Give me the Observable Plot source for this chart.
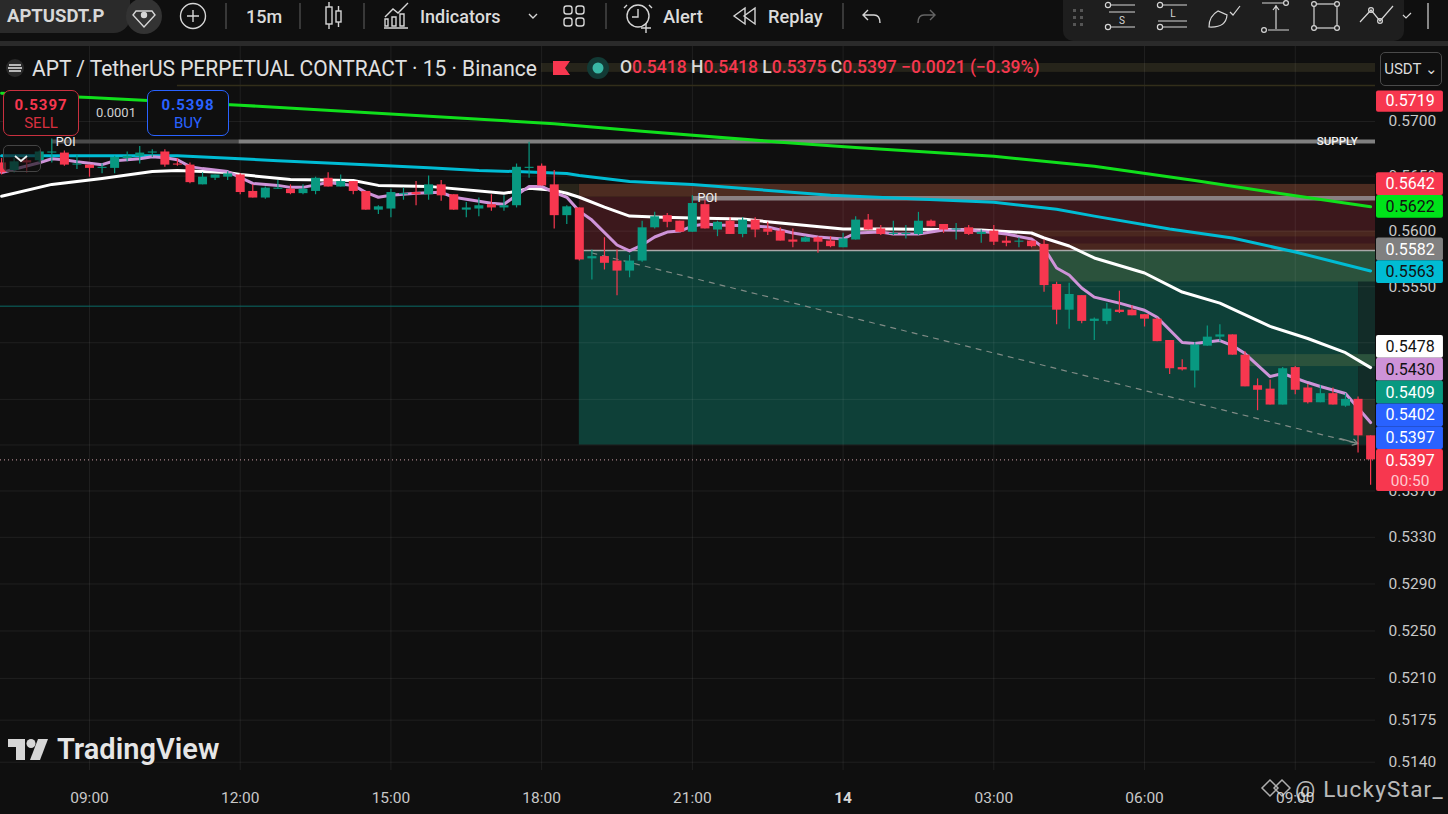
<!DOCTYPE html>
<html>
<head>
<meta charset="utf-8">
<script src="https://cdn.jsdelivr.net/npm/d3@7"></script>
<script src="https://cdn.jsdelivr.net/npm/@observablehq/plot@0.6"></script>
<style>
html,body{margin:0;padding:0;background:#0f0f0f;overflow:hidden;}
body{width:1448px;height:814px;position:relative;font-family:Roboto,"Noto Sans",sans-serif;color:#dbdbdb;}
#chart{position:absolute;left:0;top:46px;}
#divider{position:absolute;left:0;top:41px;width:1448px;height:5px;background:#2a2a2a;}
.t{position:absolute;white-space:nowrap;line-height:1;}
.ico{position:absolute;left:0;top:0;pointer-events:none;}
.box{position:absolute;box-sizing:border-box;background:#0f0f0f;text-align:center;}
.red{color:#f7374f}
</style>
</head>
<body>
<div id="chart"></div>
<div id="divider"></div>
<script>
// ---- candles: one column of values per 15-minute bar, 07:15 on the 13th to 10:30 on the 14th
const firstBar = -7; // bars counted from 09:00
const opens = [
.5662,.5655,.5664,.5664,.5671,.5671,.5660,.5660,.5657,.5657,
.5666,.5668,.5671,.5672,.5661,.5660,.5642,.5648,.5649,.5651,
.5636,.5630,.5638,.5638,.5634,.5636,.5648,.5640,.5645,.5636,
.5619,.5620,.5633,.5635,.5633,.5642,.5633,.5619,.5620,.5624,
.5621,.5623,.5657,.5659,.5642,.5614,.5621,.5575,.5577,.5573,
.5564,.5573,.5603,.5614,.5609,.5599,.5624,.5601,.5609,.5597,
.5610,.5602,.5600,.5592,.5590,.5594,.5591,.5585,.5592,.5610,
.5602,.5597,.5597,.5597,.5609,.5606,.5601,.5603,.5597,.5600,
.5591,.5590,.5591,.5588,.5552,.5529,.5542,.5519,.5519,.5529,
.5529,.5525,.5521,.5502,.5478,.5475,.5497,.5505,.5507,.5489,
.5462,.5459,.5445,.5478,.5460,.5447,.5455,.5444,.5450,.5418];
const highs = [
.5666,.5666,.5666,.5673,.5684,.5673,.5669,.5660,.5661,.5668,
.5672,.5677,.5674,.5674,.5666,.5662,.5653,.5651,.5654,.5652,
.5642,.5640,.5646,.5642,.5642,.5649,.5653,.5651,.5645,.5636,
.5623,.5638,.5639,.5645,.5650,.5646,.5633,.5626,.5630,.5633,
.5632,.5661,.5681,.5661,.5655,.5623,.5621,.5583,.5594,.5583,
.5578,.5609,.5617,.5616,.5609,.5632,.5628,.5609,.5612,.5612,
.5612,.5608,.5603,.5602,.5595,.5595,.5595,.5598,.5613,.5615,
.5605,.5609,.5605,.5617,.5610,.5606,.5607,.5605,.5601,.5605,
.5595,.5594,.5591,.5592,.5554,.5553,.5542,.5522,.5535,.5546,
.5533,.5525,.5522,.5502,.5485,.5500,.5515,.5516,.5507,.5492,
.5468,.5467,.5478,.5479,.5463,.5462,.5460,.5455,.5452,.5418];
const lows = [
.5651,.5653,.5653,.5662,.5662,.5659,.5656,.5649,.5652,.5652,
.5663,.5661,.5667,.5658,.5659,.5643,.5642,.5646,.5646,.5633,
.5630,.5629,.5638,.5633,.5633,.5633,.5640,.5640,.5633,.5619,
.5615,.5612,.5628,.5623,.5628,.5627,.5619,.5612,.5613,.5618,
.5618,.5621,.5648,.5641,.5602,.5606,.5573,.5556,.5565,.5542,
.5558,.5572,.5602,.5603,.5599,.5599,.5602,.5595,.5597,.5594,
.5594,.5596,.5591,.5585,.5590,.5580,.5585,.5585,.5592,.5601,
.5596,.5596,.5593,.5596,.5604,.5598,.5592,.5596,.5589,.5587,
.5586,.5585,.5585,.5545,.5516,.5512,.5517,.5502,.5516,.5526,
.5524,.5514,.5501,.5472,.5475,.5460,.5497,.5501,.5489,.5461,
.5440,.5445,.5445,.5454,.5446,.5447,.5445,.5443,.5403,.5375];
const closes = [
.5653,.5663,.5662,.5672,.5672,.5660,.5661,.5657,.5658,.5667,
.5668,.5671,.5672,.5660,.5660,.5644,.5649,.5651,.5652,.5635,
.5630,.5639,.5639,.5634,.5638,.5648,.5640,.5645,.5636,.5619,
.5622,.5635,.5634,.5633,.5642,.5632,.5619,.5621,.5623,.5621,
.5623,.5658,.5658,.5641,.5614,.5622,.5574,.5577,.5571,.5564,
.5573,.5603,.5613,.5608,.5599,.5625,.5602,.5608,.5597,.5610,
.5601,.5599,.5591,.5590,.5594,.5590,.5586,.5593,.5610,.5601,
.5597,.5598,.5598,.5609,.5604,.5601,.5602,.5597,.5599,.5590,
.5589,.5591,.5586,.5551,.5529,.5543,.5519,.5521,.5530,.5527,
.5524,.5521,.5501,.5477,.5476,.5498,.5505,.5507,.5489,.5461,
.5458,.5445,.5477,.5458,.5447,.5455,.5445,.5450,.5418,.5397];

// ---- moving averages, read at the bars where their bends show
const greenBars = [-7,-2,0,12,37,44,55,61,72,80,88,96,102];
const greenVals = [.5726,.5723,.5722,.5715,.5698,.5691,.5681,.5676,.5668,.5659,.5646,.5632,.5622];
const cyanBars = [-7,7,12,15,22,27,31,34,38,39,43,48,59,72,77,80,86,91,96,102];
const cyanVals = [.56685,.56685,.56658,.5664,.56604,.56577,.5655,.56541,.56523,.56505,.56451,.56424,.56325,.56262,.56199,.56136,.56019,.55938,.55812,.55641];
const whiteBars = [-7,-3,1,5,7,11,12,16,21,23,27,33,34,35,37,38,39,41,43,45,48,52,55,60,64,71,75,76,78,80,84,87,90,94,97,100,102];
const whiteVals = [.56316,.56424,.56478,.56541,.5655,.56532,.56514,.56469,.5646,.56415,.56406,.56343,.56361,.56388,.5637,.56343,.56307,.56217,.56136,.56127,.56118,.56109,.56073,.56019,.56019,.5601,.55983,.55938,.55866,.55758,.55623,.55452,.55353,.55146,.55038,.54912,.5478];
const violetBars = [-7,-4,-3,-2,-1,1,2,4,5,6,7,8,9,11,13,15,16,17,19,21,22,23,24,26,28,29,32,33,34,35,36,37,38,39,40,42,43,44,45,46,47,48,49,50,53,54,56,58,60,61,63,64,66,68,70,73,75,76,77,78,79,80,82,84,85,87,88,90,91,92,94,95,97,98,100,102];
const violetVals = [.56532,.56622,.56658,.56649,.56631,.56604,.5664,.56658,.56676,.56667,.56649,.56586,.56568,.56541,.56433,.56415,.56397,.56397,.56442,.56415,.56352,.56307,.56325,.56343,.56352,.56307,.56253,.56244,.56325,.56406,.56406,.56352,.56307,.56181,.561,.55875,.55821,.55875,.55947,.55992,.56001,.56046,.56064,.56055,.56046,.56037,.55983,.55947,.55929,.55983,.55992,.55974,.55974,.5601,.5601,.55974,.55929,.55848,.55668,.55605,.55488,.55407,.55353,.5529,.55227,.55002,.54993,.5502,.54975,.54904,.54701,.54728,.54648,.54613,.54552,.54296];

// ---- zones on the chart, back to front
const zoneFrom = [39,39,37.3,75,75,39,101.04,76.3,92,101.04,36];
const zoneTo   = [102.39,102.39,39,102.39,102.39,101.04,102.39,102.39,102.39,102.39,102.39];
const zoneHigh = [.56307,.56424,.56424,.56001,.55884,.55825,.55825,.55825,.54895,.5450,.57536];
const zoneLow  = [.55825,.56307,.56307,.55947,.55825,.5410,.5410,.55542,.54789,.5417,.57453];
const zoneFills = ["#3c181c","#4d2c21","#28241a","#4a271f","#4a271f","#0e4038","#122c28","#2b523c","#2b523c","#2a3228","#26241a"];

// ---- levels
const supplyLevel = .56816, poiLevel = .56298, entryLevel = .55825, tealLevel = .55326, oliveLevel = .57332;
const trendBars = [40,101], trendVals = [.55803,.54112];

// ---- axes
const gridTicks = [.5700,.5650,.5600,.5550,.5500,.5450,.5410,.5370,.5330,.5290,.5250,.5210,.5175,.5140];
const priceTicks = [.5700,.5650,.5600,.5550,.5370,.5330,.5290,.5250,.5210,.5175,.5140];
const timeTicks = [0,12,24,36,48,72,84,96];
const timeLabels = ["09:00","12:00","15:00","18:00","21:00","03:00","06:00","09:00"];
const dayTick = 60, dayLabel = "14";

// ---- price tags on the right scale, top to bottom
const tagValues = [.5719,.5642,.5622,.5582,.5563,.5478,.5430,.5409,.5402,.5397,.5397];
const tagFills  = ["#f7374f","#f7374f","#00e31a","#808080","#00bcd4","#ffffff","#ce93d8","#089981","#2962ff","#2962ff","#f7374f"];
const tagInks   = ["#fff","#fff","#111","#fff","#111","#111","#111","#fff","#fff","#fff","#fff"];
const countdown = "00:50";

const W = 1448, H = 768, mr = 73, mb = 44;
const xDomain = [-7.086, 102.39];
const yDomain = [.51331, .57694];
const yPx = d3.scaleLog().domain(yDomain).range([H - mb, 0]);

const bars = opens.map((o,i)=>({i:i+firstBar,o,h:highs[i],l:lows[i],c:closes[i]}));
const series = (b,v)=>b.map((x,i)=>({x,y:v[i]}));
const zones = zoneFrom.map((f,i)=>({f,t:zoneTo[i],hi:zoneHigh[i],lo:zoneLow[i],fill:zoneFills[i]}));

// stack the tags upward from the live price so they do not overlap, as the platform does
const tagH = 22.8;
let centre = [];
let prev = null;
for (let i = tagValues.length-1; i>=0; i--){
  const real = yPx(tagValues[i]);
  const c = prev===null ? real+1 : Math.min(real, prev-tagH);
  centre[i]=c; prev=c;
}
const tags = tagValues.map((v,i)=>({
  v, fill:tagFills[i], ink:tagInks[i], c:centre[i],
  y1: yPx.invert(centre[i]-tagH/2 + (i===0?1.5:0)),
  y2: yPx.invert(centre[i]+(i===tagValues.length-1?30.5:tagH/2)),
  y: yPx.invert(centre[i])
}));
const lastTag = tags[tags.length-1];
const tagX1 = 102.47, tagX2 = 107.8, tagXc = 105.15;
const gridCol = "rgba(255,255,255,.07)";

const chart = Plot.plot({
  width:W, height:H,
  marginLeft:0, marginRight:mr, marginTop:0, marginBottom:mb,
  style:{background:"#0f0f0f",color:"#cfcfcf",fontFamily:"Roboto, sans-serif"},
  x:{domain:xDomain},
  y:{type:"log",domain:yDomain},
  marks:[
    Plot.rect(zones,{x1:"f",x2:"t",y1:"lo",y2:"hi",fill:d=>d.fill}),
    Plot.gridY(gridTicks,{stroke:gridCol,strokeOpacity:1}),
    Plot.gridX([...timeTicks,dayTick],{stroke:gridCol,strokeOpacity:1}),
    Plot.ruleY([oliveLevel],{x1:7,x2:xDomain[1],stroke:"#322e1a",strokeWidth:1.5}),
    Plot.ruleY([tealLevel],{x1:xDomain[0],x2:76.8,stroke:"#0a6b66",strokeWidth:1}),
    Plot.ruleY([entryLevel],{x1:39,x2:xDomain[1],stroke:"#a8a8a8",strokeWidth:1.5}),
    Plot.ruleY([supplyLevel],{x1:-3,x2:11.9,stroke:"#4a4a4a",strokeWidth:4}),
    Plot.ruleY([supplyLevel],{x1:11.9,x2:xDomain[1],stroke:"#808080",strokeWidth:4}),
    Plot.ruleY([poiLevel],{x1:48,x2:xDomain[1],stroke:"#8a8082",strokeWidth:4.5}),
    Plot.ruleY([closes[closes.length-1]],{x1:xDomain[0],x2:xDomain[1],stroke:"#cfa0a8",strokeWidth:1,strokeDasharray:"1,3"}),
    Plot.line(series(trendBars,trendVals),{x:"x",y:"y",stroke:"#7f8a85",strokeWidth:1.2,strokeDasharray:"5,6"}),
    Plot.arrow([{x1:99.6,y1:.54155,x2:101,y2:.54112}],{x1:"x1",y1:"y1",x2:"x2",y2:"y2",stroke:"#7f8a85",strokeWidth:1.2,headLength:9,bend:0}),
    Plot.line(series(greenBars,greenVals),{x:"x",y:"y",stroke:"#10e01c",strokeWidth:3}),
    Plot.line(series(cyanBars,cyanVals),{x:"x",y:"y",stroke:"#00bcd4",strokeWidth:3}),
    Plot.line(series(whiteBars,whiteVals),{x:"x",y:"y",stroke:"#ffffff",strokeWidth:3}),
    Plot.line(series(violetBars,violetVals),{x:"x",y:"y",stroke:"#ce93d8",strokeWidth:3}),
    Plot.ruleX(bars,{x:"i",y1:"l",y2:"h",stroke:d=>d.c>=d.o?"#089981":"#f7374f",strokeWidth:1.2}),
    Plot.ruleX(bars,{x:"i",y1:"o",y2:"c",stroke:d=>d.c>=d.o?"#089981":"#f7374f",strokeWidth:9}),
    Plot.text(["POI"],{x:[-1.9],y:[supplyLevel],fill:"#f0f0f0",fontSize:12.5}),
    Plot.text(["POI"],{x:[49.2],y:[poiLevel],fill:"#f0f0f0",fontSize:12.5}),
    Plot.text(["SUPPLY"],{x:[99.35],y:[supplyLevel],fill:"#f4f4f4",fontSize:11.5,fontWeight:500}),
    Plot.axisY({anchor:"right",ticks:priceTicks,tickFormat:d=>d.toFixed(4),tickSize:0,tickPadding:13,fontSize:15.5,label:null,fill:"#c8c8c8"}),
    Plot.axisX({ticks:timeTicks,tickFormat:i=>timeLabels[timeTicks.indexOf(i)],tickSize:0,tickPadding:21,fontSize:15.5,label:null,fill:"#c8c8c8"}),
    Plot.axisX({ticks:[dayTick],tickFormat:()=>dayLabel,tickSize:0,tickPadding:21,fontSize:15.5,fontWeight:700,label:null,fill:"#d8d8d8"}),
    Plot.rect(tags,{x1:tagX1,x2:tagX2,y1:"y1",y2:"y2",fill:"fill",r:2}),
    Plot.text(tags,{x:tagXc,y:"y",text:d=>d.v.toFixed(4),fill:"ink",fontSize:16}),
    Plot.text([countdown],{x:tagXc,y:[yPx.invert(lastTag.c+20)],fill:"#ffc9ce",fontSize:15.5})
  ]
});
chart.style.display="block";
document.getElementById("chart").appendChild(chart);

// ---- platform chrome around the chart
const put=(html)=>document.body.insertAdjacentHTML("beforeend",html);
const T=(txt,x,y,size,extra="")=>put(`<div class="t" style="left:${x}px;top:${y}px;font-size:${size}px;${extra}">${txt}</div>`);
put(`<div style="position:absolute;left:-20px;top:-10px;width:150px;height:43px;background:#2a2a2a;border-radius:0 0 16px 0"></div>`);
put(`<div style="position:absolute;left:1063px;top:0;width:341px;height:41px;background:#1e1e1e;border-radius:0 0 10px 10px"></div>`);
T("APTUSDT.P",7,7,18.5,"font-weight:700;color:#d8d8d8;");
T("15m",246,8,18,"font-weight:500;");
T("Indicators",420,8,18,"font-weight:500;");
T("Alert",663,8,18.4,"font-weight:500;");
T("Replay",768,8,18.2,"font-weight:500;");
T("APT / TetherUS PERPETUAL CONTRACT · 15 · Binance",32,57.5,22,"color:#e0e0e0;transform-origin:left top;transform:scaleX(.953);");
T('O<span class="red">0.5418</span> H<span class="red">0.5418</span> L<span class="red">0.5375</span> C<span class="red">0.5397</span> <span class="red">−0.0021 (−0.39%)</span>',620,59,17.5,"font-weight:500;");
put(`<div class="box" style="left:1380px;top:52px;width:62px;height:34px;border:1px solid #4a4a4a;border-radius:5px;line-height:32px;font-size:15px;color:#dcdcdc;">USDT ⌄</div>`);
put(`<div class="box" style="left:3px;top:90px;width:76px;height:46px;border:1.4px solid #c9303f;border-radius:7px;color:#f7374f;"><div style="font-weight:700;font-size:15px;letter-spacing:.9px;margin-top:5px;">0.5397</div><div style="font-size:15px;margin-top:0;color:#d8303f">SELL</div></div>`);
put(`<div class="box" style="left:147px;top:90px;width:82px;height:46px;border:1.4px solid #2962ff;border-radius:7px;color:#2962ff;"><div style="font-weight:700;font-size:15px;letter-spacing:.9px;margin-top:5px;">0.5398</div><div style="font-size:15px;margin-top:0;">BUY</div></div>`);
T("0.0001",96,106,13,"color:#cfcfcf;");
put(`<div style="position:absolute;left:3px;top:145px;width:38px;height:27px;box-sizing:border-box;border:1px solid #444;border-radius:5px;background:rgba(15,15,15,.65)"></div>`);
T("TradingView",57,735,29,"font-weight:600;color:#e6e6e6;");
T("@ LuckyStar_",1295,778,22.5,"color:rgba(235,235,235,.8);letter-spacing:1.2px;");
put(`<svg class="ico" width="1448" height="814" fill="none" stroke="#d6d6d6" stroke-width="1.4">
<g fill="#d6d6d6" stroke="none">
 <path d="M8 739h17v21h-9v-13H8z"/><circle cx="31" cy="743.5" r="4.5"/><path d="M38 739h10l-8 21H30z"/>
</g>
<circle cx="144" cy="16" r="18" fill="#333" stroke="none"/>
<path d="M136 11h16l3 4-11 12-11-12z"/><circle cx="144" cy="15" r="2.5" fill="#d6d6d6"/>
<circle cx="193" cy="16" r="12.5"/><path d="M187 16h12M193 10v12"/>
<path d="M226 3v26M300 3v26M364 3v26M606 3v26M843 3v26" stroke="#4a4a4a"/>
<rect x="326" y="7" width="6" height="17"/><path d="M329 2v5M329 24v5"/><rect x="336" y="11" width="5" height="11"/><path d="M338.5 6v5M338.5 22v5"/>
<path d="M385 17l8-8 5 4 10-10M385 26h3v-7h-3zM392 26h4v-9h-4zM400 26h4v-12h-4zM384 28h24"/>
<path d="M529 14l4 4 4-4"/>
<rect x="564" y="6" width="8" height="8" rx="2.5"/><rect x="576" y="6" width="8" height="8" rx="2.5"/><rect x="564" y="18" width="8" height="8" rx="2.5"/><rect x="576" y="18" width="8" height="8" rx="2.5"/>
<circle cx="638" cy="16" r="11"/><path d="M638 9v8h-6M627 5l-3 3M649 5l3 3M641 28h10M646 23v10"/>
<path d="M745 8l-11 8 11 8zM755 8l-11 8 11 8z"/>
<path d="M868 10l-5 5 5 5M864 15h10q6 0 6 8"/>
<path d="M930 10l5 5-5 5M934 15h-10q-6 0-6 8" stroke="#666"/>
<g stroke="#d6d6d6" stroke-width="1.2">
 <circle cx="1108" cy="5" r="2.6"/><path d="M1111 5h24M1109 12h26M1111 27h24"/><circle cx="1108" cy="27" r="2.6"/>
 <circle cx="1160" cy="5" r="2.6"/><path d="M1163 5h24M1158 21h29M1163 27h24"/><circle cx="1160" cy="27" r="2.6"/>
 <path d="M1209 27q0-11 9-16l9 4q-1 13-18 12zM1230 12l3 3 7-9"/>
 <path d="M1262 3h22M1268 30h21M1276 5v24M1273 10l3-4 3 4"/><circle cx="1286" cy="3" r="2.4"/><circle cx="1264" cy="30" r="2.4"/>
 <rect x="1314" y="4" width="23" height="24"/><circle cx="1314" cy="4" r="2.4" fill="#1e1e1e"/><circle cx="1337" cy="4" r="2.4" fill="#1e1e1e"/><circle cx="1314" cy="28" r="2.4" fill="#1e1e1e"/><circle cx="1337" cy="28" r="2.4" fill="#1e1e1e"/>
 <path d="M1360 22l11-12 9 11 13-15"/><circle cx="1371" cy="10" r="2.4"/><circle cx="1380" cy="21" r="2.4"/>
 <path d="M1403 15l3 3 5-5M1428 3v26"/>
</g>
<text x="1122" y="24" fill="#d6d6d6" stroke="none" font-size="10" text-anchor="middle" font-family="Roboto">S</text>
<text x="1173" y="17" fill="#d6d6d6" stroke="none" font-size="10" text-anchor="middle" font-family="Roboto">L</text>
<g fill="#555" stroke="none">
 <rect x="1073" y="9" width="3" height="3"/><rect x="1080" y="9" width="3" height="3"/><rect x="1073" y="16" width="3" height="3"/><rect x="1080" y="16" width="3" height="3"/><rect x="1073" y="23" width="3" height="3"/><rect x="1080" y="23" width="3" height="3"/>
</g>
<circle cx="15" cy="68" r="9" fill="#2a2a2a" stroke="none"/><path d="M9 65h12M8 68h14M9 71h12" stroke="#e8e8e8" stroke-width="1.6"/>
<path d="M553 61h17l-5 7 5 7h-17z" fill="#f7374f" stroke="none"/>
<circle cx="598" cy="68" r="11" fill="#123a35" stroke="none"/><circle cx="598" cy="68" r="5.5" fill="#39b8a5" stroke="none"/>
<path d="M15 156l6 5 6-5" stroke="#eee" stroke-width="1.8"/>
<g stroke="#e4e4e4" stroke-width="1.5"><path d="M1270 780l-8 8 8 8 8-8zM1282 780l-8 8 8 8 8-8z" opacity=".75"/></g>
</svg>`);
</script>
</body>
</html>
